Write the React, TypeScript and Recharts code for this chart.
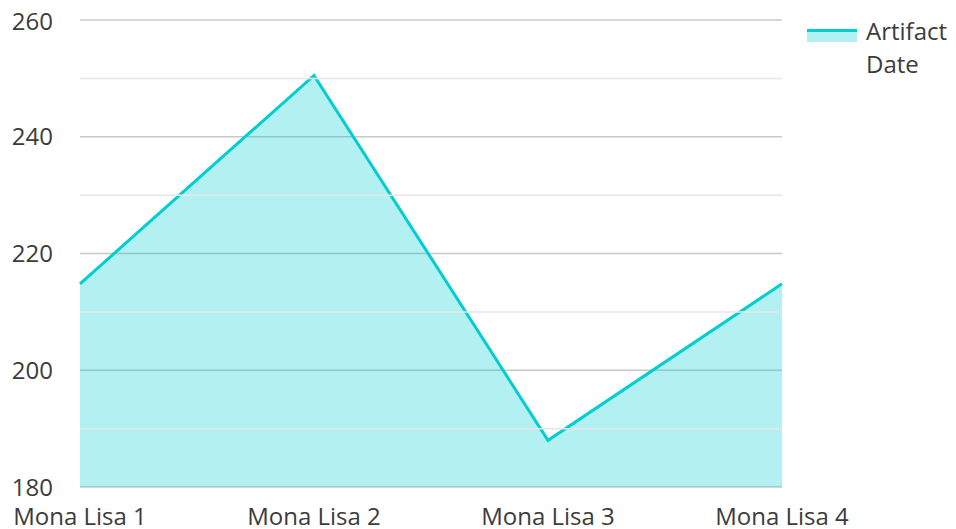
import * as React from 'react';
import { AreaChart, Area, XAxis, YAxis, CartesianGrid, ReferenceLine } from 'recharts';

const categories = ['Mona Lisa 1', 'Mona Lisa 2', 'Mona Lisa 3', 'Mona Lisa 4'];
const artifactDate = [214.8, 250.5, 188, 214.8];
const majorTicks = [180, 200, 220, 240, 260];
const minorTicks = [190, 210, 230, 250];

const data = categories.map((name, i) => ({ name, value: artifactDate[i] }));

const LINE = '#00CED1';
const TEXT = '#3c3c3c';
const FONT = '"Open Sans", sans-serif';

const LegendBox = () => (
  <div
    style={{
      position: 'absolute',
      left: 799,
      top: 6,
      display: 'flex',
      fontFamily: FONT,
      fontSize: 24,
      color: TEXT,
      lineHeight: '33px',
    }}
  >
    <svg width={50} height={16} style={{ marginTop: 15, marginRight: 9, flex: 'none' }}>
      <rect x={0} y={3} width={50} height={10} fill={LINE} fillOpacity={0.3} />
      <line x1={0} x2={50} y1={1.5} y2={1.5} stroke={LINE} strokeWidth={3} />
    </svg>
    <div style={{ width: 90 }}>Artifact Date</div>
  </div>
);

export default function App() {
  return (
    <div style={{ position: 'relative', width: 948, height: 521 }}>
      <AreaChart width={948} height={521} data={data} margin={{ top: 12, right: 174, bottom: 8, left: 0 }}>
        <CartesianGrid horizontal vertical={false} stroke="#c8c8c8" strokeWidth={1.5} />
        {minorTicks.map((t) => (
          <ReferenceLine key={t} y={t} stroke="#e6e6e6" strokeWidth={1.5} />
        ))}
        <XAxis
          dataKey="name"
          axisLine={false}
          tickLine={false}
          tickSize={0}
          tickMargin={21}
          height={34}
          interval={0}
          tick={{ fill: TEXT, fontSize: 24, fontFamily: FONT }}
        />
        <YAxis
          domain={[180, 260]}
          ticks={majorTicks}
          axisLine={false}
          tickLine={false}
          tickSize={0}
          tickMargin={27}
          width={72}
          tick={{ fill: TEXT, fontSize: 24, fontFamily: FONT }}
        />
        <Area
          type="linear"
          dataKey="value"
          name="Artifact Date"
          stroke={LINE}
          strokeWidth={3}
          fill={LINE}
          fillOpacity={0.3}
          dot={false}
          activeDot={false}
          isAnimationActive={false}
          baseValue={180}
        />
      </AreaChart>
      <LegendBox />
    </div>
  );
}
